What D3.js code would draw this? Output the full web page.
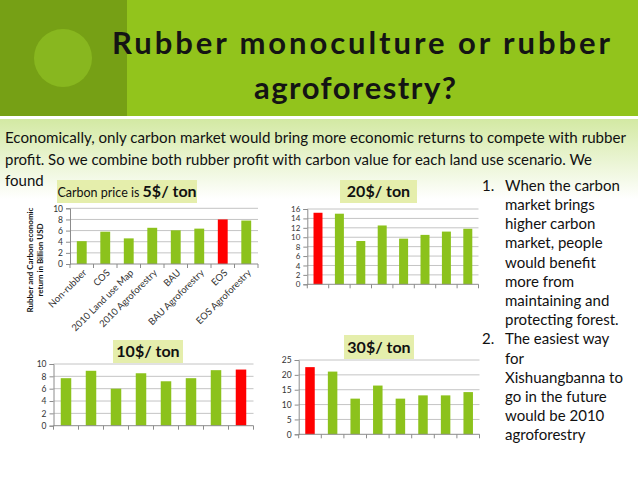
<!DOCTYPE html>
<html><head><meta charset="utf-8">
<script src="https://cdn.jsdelivr.net/npm/d3@7/dist/d3.min.js"></script>
<style>body{margin:0;background:#fff;}svg{display:block;}</style>
</head><body>
<svg id="slide" width="638" height="478"></svg>
<script>
// ---------- data ----------
const categories = ["Non-rubber","COS","2010 Land use Map","2010 Agroforestry","BAU","BAU Agroforestry","EOS","EOS Agroforestry"];
const values5  = [4.1, 5.8, 4.6, 6.5, 6.05, 6.35, 8.0, 7.8];
const values10 = [7.7, 8.9, 6.0, 8.5, 7.2, 7.7, 9.0, 9.1];
const values20 = [15.2, 15.0, 9.2, 12.5, 9.7, 10.5, 11.2, 11.8];
const values30 = [22.6, 21.1, 12.0, 16.4, 12.0, 13.1, 13.1, 14.2];
const highlight5 = 6, highlight10 = 7, highlight20 = 0, highlight30 = 0;
const ticks5  = [0, 2, 4, 6, 8, 10];
const ticks10 = [0, 2, 4, 6, 8, 10];
const ticks20 = [0, 2, 4, 6, 8, 10, 12, 14, 16];
const ticks30 = [0, 5, 10, 15, 20, 25];
const titleLines = ["Rubber monoculture or rubber", "agroforestry?"];
const paraLines = [
  "Economically, only carbon market would bring more economic returns to compete with rubber",
  "profit. So we combine both rubber profit with carbon value for each land use scenario. We",
  "found"
];
const yAxisTitle = ["Rubber and Carbon economic", "return in Billion USD"];
const listItems = [
  ["When the carbon","market brings","higher carbon","market, people","would benefit","more from","maintaining and","protecting forest."],
  ["The easiest way","for","Xishuangbanna to","go in the future","would be 2010","agroforestry"]
];

// ---------- drawing ----------
const svg = d3.select("#slide");
const FONT = "Lato, 'Open Sans', sans-serif";
const defs = svg.append("defs");
const grad = defs.append("linearGradient").attr("id","band").attr("x1",0).attr("y1",0).attr("x2",0).attr("y2",1);
grad.append("stop").attr("offset","0%").attr("stop-color","#d3e9a3");
grad.append("stop").attr("offset","100%").attr("stop-color","#ffffff");

// header
svg.append("rect").attr("x",0).attr("y",0).attr("width",638).attr("height",116).attr("fill","#92c41c");
svg.append("rect").attr("x",0).attr("y",0).attr("width",127).attr("height",116).attr("fill","#76a015");
svg.append("circle").attr("cx",63).attr("cy",58).attr("r",29).attr("fill","#88b71f");
svg.append("rect").attr("x",0).attr("y",119).attr("width",638).attr("height",80).attr("fill","url(#band)");

svg.append("text").text(titleLines[0]).attr("x",112).attr("y",54)
  .attr("textLength",498).attr("lengthAdjust","spacing")
  .attr("font-family",FONT).attr("font-weight","bold").attr("font-size",31).attr("fill","#141414");
svg.append("text").text(titleLines[1]).attr("x",254).attr("y",99)
  .attr("textLength",202).attr("lengthAdjust","spacing")
  .attr("font-family",FONT).attr("font-weight","bold").attr("font-size",31).attr("fill","#141414");

// paragraph
const paraWidths = [621, 587, null];
paraLines.forEach((t,i)=>{
  const el = svg.append("text").text(t).attr("x",5).attr("y",143 + i*21.5)
    .attr("font-family",FONT).attr("font-size",15).attr("fill","#111");
  if (paraWidths[i]) el.attr("textLength",paraWidths[i]).attr("lengthAdjust","spacingAndGlyphs");
});

// numbered list
let li = 0;
listItems.forEach((lines,k)=>{
  lines.forEach((t,j)=>{
    const y = 190.7 + li*19.2;
    if (j===0) svg.append("text").text((k+1)+".").attr("x",482).attr("y",y)
      .attr("font-family",FONT).attr("font-size",15).attr("fill","#111");
    svg.append("text").text(t).attr("x",505).attr("y",y)
      .attr("font-family",FONT).attr("font-size",15).attr("fill","#111");
    li++;
  });
});

function drawChart(opt) {
  const g = svg.append("g");
  const x = d3.scaleBand().domain(categories).range([opt.x0, opt.x1]).paddingInner(0.58).paddingOuter(0.29);
  const y = d3.scaleLinear().domain([0, opt.ticks[opt.ticks.length-1]]).range([opt.yBot, opt.yTop]);
  // gridlines
  g.selectAll("line.grid").data(opt.ticks.slice(1)).join("line")
    .attr("x1",opt.x0).attr("x2",opt.x1).attr("y1",d=>y(d)).attr("y2",d=>y(d))
    .attr("stroke","#c4c4c4").attr("stroke-width",1);
  // y axis
  const ya = g.append("g").attr("transform",`translate(${opt.x0},0)`)
    .call(d3.axisLeft(y).tickValues(opt.ticks).tickSize(4).tickPadding(3));
  ya.select(".domain").attr("stroke","#8c8c8c");
  ya.selectAll(".tick line").attr("stroke","#8c8c8c");
  ya.selectAll("text").attr("font-family",FONT).attr("font-size",opt.tickFont).attr("fill","#333");
  // bars
  g.selectAll("rect.bar").data(opt.values).join("rect")
    .attr("x",(d,i)=>x(categories[i])).attr("width",x.bandwidth())
    .attr("y",d=>y(d)).attr("height",d=>opt.yBot - y(d))
    .attr("fill",(d,i)=> i===opt.highlight ? "#ff0000" : "#8cc21c");
  // x axis line with ticks between categories
  g.append("line").attr("x1",opt.x0).attr("x2",opt.x1).attr("y1",opt.yBot).attr("y2",opt.yBot)
    .attr("stroke","#8c8c8c");
  const step = x.step();
  g.selectAll("line.xt").data(d3.range(categories.length+1)).join("line")
    .attr("x1",i=>opt.x0 + i*step).attr("x2",i=>opt.x0 + i*step)
    .attr("y1",opt.yBot).attr("y2",opt.yBot+4).attr("stroke","#8c8c8c");
  if (opt.labels) {
    g.selectAll("text.cat").data(categories).join("text")
      .attr("transform",d=>`translate(${x(d)+x.bandwidth()/2+3},${opt.yBot+7}) rotate(-45)`)
      .attr("text-anchor","end").attr("dy","0.35em")
      .attr("font-family",FONT).attr("font-size",9.5).attr("fill","#333").text(d=>d);
  }
  // label box
  g.append("rect").attr("x",opt.box[0]).attr("y",opt.box[1]).attr("width",opt.box[2]).attr("height",opt.box[3])
    .attr("fill","#e5eeac");
  const t = g.append("text").attr("x",opt.box[0]+opt.box[2]/2).attr("y",opt.box[1]+opt.box[3]/2+5.5)
    .attr("text-anchor","middle").attr("font-family",FONT).attr("fill","#111");
  if (opt.prefix) t.append("tspan").attr("font-size",12.5).text(opt.prefix);
  t.append("tspan").attr("font-size",16).attr("font-weight","bold").text(opt.price);
}

drawChart({values:values5, highlight:highlight5, ticks:ticks5, x0:70, x1:258, yTop:208.3, yBot:264, tickFont:8.5,
  labels:true, box:[57,180,140,23], prefix:"Carbon price is ", price:"5$/ ton"});
drawChart({values:values20, highlight:highlight20, ticks:ticks20, x0:307.3, x1:478.5, yTop:209, yBot:284.3, tickFont:8,
  labels:false, box:[340,180,77,23], price:"20$/ ton"});
drawChart({values:values10, highlight:highlight10, ticks:ticks10, x0:53.5, x1:253.5, yTop:364, yBot:425.7, tickFont:8.5,
  labels:false, box:[113,340,70,23], price:"10$/ ton"});
drawChart({values:values30, highlight:highlight30, ticks:ticks30, x0:298.7, x1:479.5, yTop:360, yBot:434.3, tickFont:8.5,
  labels:false, box:[344,335,70,24], price:"30$/ ton"});

// y-axis title of first chart
yAxisTitle.forEach((t,i)=>{
  svg.append("text").text(t)
    .attr("transform",`translate(${33 + i*10},260) rotate(-90)`)
    .attr("text-anchor","middle").attr("font-family",FONT).attr("font-weight","bold")
    .attr("font-size",8).attr("fill","#111");
});
</script>
</body></html>
